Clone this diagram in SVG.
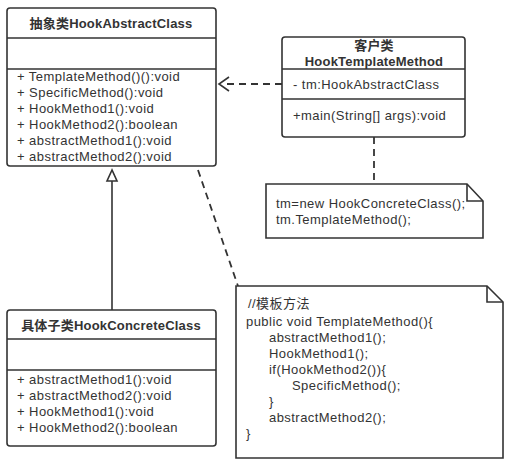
<svg xmlns="http://www.w3.org/2000/svg" width="516" height="468" viewBox="0 0 516 468">
<style>
.box{fill:#fff;stroke:#333;stroke-width:1.6}
.ln{stroke:#333;stroke-width:1.6;fill:none}
.dash{stroke:#333;stroke-width:1.8;fill:none;stroke-dasharray:7,5}
text{font-family:"Liberation Sans","Noto Sans CJK SC",sans-serif;font-size:13px;fill:#333;dominant-baseline:central;letter-spacing:0.45px}
.b{font-weight:bold;text-anchor:middle;letter-spacing:0.2px}
</style>
<rect width="516" height="468" fill="#fff"/>
<g id="connectors">
<path class="dash" d="M282,84 L222,84"/>
<path class="ln" d="M229,77 L219,84 L229,91"/>
<path class="dash" d="M374,137 L374,184"/>
<path class="dash" d="M198,170 L238,286"/>
<path class="ln" d="M112,310 L112,181"/>
<path class="box" d="M112,170 L107,181 L117,181 Z"/>
</g>
<g id="HookAbstractClass">
<rect class="box" x="7" y="8" width="209" height="158" rx="3"/>
<path class="ln" d="M7,38 H216 M7,69 H216"/>
<text class="b" x="111" y="23">抽象类HookAbstractClass</text>
<text x="17" y="76">+ TemplateMethod()():void</text>
<text x="17" y="92">+ SpecificMethod():void</text>
<text x="17" y="108">+ HookMethod1():void</text>
<text x="17" y="124">+ HookMethod2():boolean</text>
<text x="17" y="140">+ abstractMethod1():void</text>
<text x="17" y="156">+ abstractMethod2():void</text>
</g>
<g id="HookTemplateMethod">
<rect class="box" x="282" y="37" width="183" height="100" rx="3"/>
<path class="ln" d="M282,69 H465 M282,99 H465"/>
<text class="b" x="374" y="45">客户类</text>
<text class="b" x="374" y="61">HookTemplateMethod</text>
<text x="293" y="84">- tm:HookAbstractClass</text>
<text x="293" y="115">+main(String[] args):void</text>
</g>
<g id="note1">
<path class="box" d="M266,184 H467 L483,201 V238 H266 Z"/>
<path class="ln" d="M467,184 V201 H483"/>
<text x="276" y="203">tm=new HookConcreteClass();</text>
<text x="276" y="219">tm.TemplateMethod();</text>
</g>
<g id="HookConcreteClass">
<rect class="box" x="7" y="310" width="209" height="136" rx="3"/>
<path class="ln" d="M7,339 H216 M7,370 H216"/>
<text class="b" x="111" y="325">具体子类HookConcreteClass</text>
<text x="17" y="379">+ abstractMethod1():void</text>
<text x="17" y="395">+ abstractMethod2():void</text>
<text x="17" y="411">+ HookMethod1():void</text>
<text x="17" y="427">+ HookMethod2():boolean</text>
</g>
<g id="note2">
<path class="box" d="M236,286 H487 L503,302 V458 H236 Z"/>
<path class="ln" d="M487,286 V302 H503"/>
<text x="248" y="303">//模板方法</text>
<text x="246" y="321">public void TemplateMethod(){</text>
<text x="269" y="337">abstractMethod1();</text>
<text x="269" y="353">HookMethod1();</text>
<text x="269" y="369">if(HookMethod2()){</text>
<text x="292" y="385">SpecificMethod();</text>
<text x="269" y="401">}</text>
<text x="269" y="417">abstractMethod2();</text>
<text x="246" y="433">}</text>
</g>
</svg>
